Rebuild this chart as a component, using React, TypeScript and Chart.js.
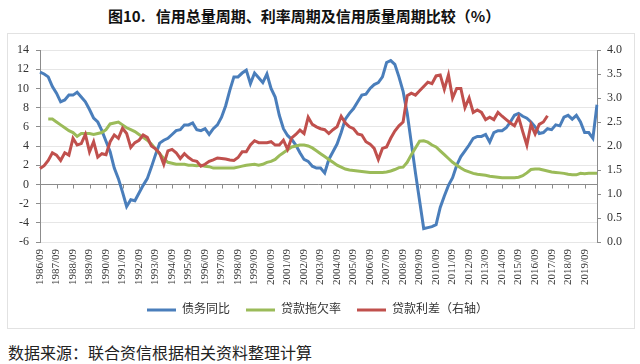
import React, { useEffect, useRef } from 'react';
import { Chart, registerables } from 'chart.js';

Chart.register(...registerables);

// Quarterly categories 1986/09 .. 2020/06
const yearTicks: string[] = [];
for (let y = 1986; y <= 2019; y++) yearTicks.push(`${y}/09`);
const categories: string[] = [];
for (let y = 1986; y <= 2020; y++) {
  for (const m of ['09', '12', '03', '06']) {
    const yy = m === '09' || m === '12' ? y : y + 1;
    categories.push(`${yy}/${m}`);
  }
}
categories.length = 136;

const leftTicks = [-6, -4, -2, 0, 2, 4, 6, 8, 10, 12, 14];
const rightTicks = [0, 0.5, 1, 1.5, 2, 2.5, 3, 3.5, 4];

// 债务同比 (left axis, %)
const debtGrowth: number[] = [
  11.7, 11.5, 11.2, 10.2, 9.5, 8.6, 8.8, 9.3, 9.3, 9.6,
  9.1, 8.6, 7.8, 6.9, 6.5, 5.6, 4.5, 3.4, 1.7, 0.6,
  -0.8, -2.3, -1.6, -1.7, -0.9, -0.1, 0.6, 1.8, 3.1, 4.3,
  4.6, 4.8, 5.2, 5.6, 5.7, 6.2, 6.2, 6.4, 5.7, 5.6,
  5.8, 5.2, 5.8, 6.2, 7.0, 8.2, 9.8, 11.2, 11.2, 11.6,
  11.9, 10.5, 11.6, 11.1, 10.6, 11.5, 10.0, 9.1, 7.2, 5.8,
  5.1, 4.7, 4.1, 3.3, 2.6, 2.4, 1.9, 1.7, 1.7, 1.2,
  2.6, 3.4, 4.2, 5.4, 6.8, 7.4, 7.9, 8.6, 9.3, 9.4,
  10.0, 10.4, 10.6, 11.2, 12.7, 12.9, 12.5, 11.2, 9.7, 7.4,
  4.3, 1.2, -1.7, -4.6, -4.5, -4.4, -4.2, -2.4, -1.2, -0.1,
  0.7, 2.0, 2.9, 3.5, 4.1, 4.8, 5.0, 5.0, 5.2, 4.4,
  5.4, 5.6, 5.6, 5.9, 6.5, 7.2, 7.4, 7.1, 6.9, 6.5,
  6.0, 5.3, 5.4, 5.8, 5.7, 6.2, 6.1, 7.0, 7.2, 6.8,
  7.2, 6.5, 5.4, 5.4, 4.8, 8.3,
];

// 贷款拖欠率 (left axis, %)
const delinquency: (number | null)[] = [
  null, null, 6.8, 6.8, 6.5, 6.2, 5.9, 5.6, 5.4, 5.0,
  5.3, 5.3, 5.3, 5.2, 5.3, 5.4, 5.7, 6.3, 6.4, 6.5,
  6.2, 5.9, 5.7, 5.5, 5.2, 4.9, 4.6, 4.2, 3.7, 3.2,
  2.7, 2.3, 2.2, 2.1, 2.1, 2.1, 2.0, 2.0, 1.95, 2.0,
  1.9, 1.85, 1.7, 1.7, 1.7, 1.7, 1.7, 1.7, 1.8, 1.9,
  2.0, 2.05, 2.1, 2.0, 2.1, 2.3, 2.4, 2.6, 3.0, 3.3,
  3.6, 3.9, 4.0, 4.1, 4.1, 4.0, 3.8, 3.5, 3.2, 2.9,
  2.6, 2.3, 2.0, 1.8, 1.6, 1.5, 1.45, 1.4, 1.35, 1.3,
  1.25, 1.25, 1.25, 1.25, 1.3, 1.4, 1.55, 1.75, 1.8, 2.3,
  3.1, 3.8, 4.5, 4.55, 4.4, 4.1, 3.9, 3.5, 3.1, 2.7,
  2.3, 2.0, 1.7, 1.45, 1.3, 1.15, 1.05, 1.0, 0.95, 0.85,
  0.8, 0.75, 0.7, 0.7, 0.7, 0.7, 0.75, 0.9, 1.2, 1.55,
  1.6, 1.6, 1.5, 1.4, 1.3, 1.25, 1.2, 1.15, 1.05, 1.0,
  1.0, 1.15, 1.1, 1.15, 1.15, 1.15,
];

// 贷款利差 (right axis, %)
const loanSpread: number[] = [
  1.53, 1.59, 1.70, 1.86, 1.81, 1.70, 1.86, 1.81, 2.16, 2.02,
  2.05, 2.24, 1.88, 2.09, 1.77, 1.84, 1.82, 2.09, 2.23, 2.16,
  2.37, 2.26, 1.97, 2.07, 2.12, 2.23, 2.18, 2.00, 1.94, 1.85,
  1.62, 1.90, 1.93, 1.86, 1.74, 1.84, 1.76, 1.70, 1.68, 1.58,
  1.62, 1.68, 1.71, 1.75, 1.74, 1.73, 1.71, 1.70, 1.76, 1.88,
  1.88, 2.02, 2.11, 2.07, 2.07, 2.07, 2.09, 2.02, 2.02, 2.12,
  1.93, 2.17, 2.24, 2.33, 2.26, 2.60, 2.45, 2.40, 2.36, 2.34,
  2.26, 2.34, 2.40, 2.62, 2.48, 2.40, 2.36, 2.25, 2.23, 2.09,
  2.04, 1.95, 1.72, 1.95, 1.98, 2.16, 2.31, 2.42, 2.50, 3.05,
  3.10, 3.06, 3.15, 3.24, 3.33, 3.30, 3.46, 3.48, 3.18, 3.48,
  3.00, 3.20, 3.20, 2.80, 3.00, 2.70, 2.75, 2.70, 2.55, 2.60,
  2.55, 2.70, 2.62, 2.55, 2.48, 2.42, 2.60, 2.30, 2.02, 2.45,
  2.25, 2.45, 2.50, 2.63,
];

const seriesNames = ['债务同比', '贷款拖欠率', '贷款利差（右轴）'];
const seriesColors = ['#4A7EBB', '#9BBB59', '#C0504D'];

const serif = "'Liberation Serif', 'Noto Sans CJK SC', serif";

const zeroAxisPlugin = {
  id: 'zeroAxis',
  beforeDatasetsDraw(chart: any) {
    const { ctx, chartArea, scales } = chart;
    const y0 = Math.round(scales.yLeft.getPixelForValue(0)) + 0.5;
    ctx.save();
    ctx.strokeStyle = '#8c8c8c';
    ctx.lineWidth = 1;
    ctx.beginPath();
    ctx.moveTo(chartArea.left, y0);
    ctx.lineTo(chartArea.right, y0);
    categories.forEach((c, i) => {
      if (yearTicks.includes(c)) {
        const x = Math.round(scales.x.getPixelForValue(i)) + 0.5;
        ctx.moveTo(x, y0);
        ctx.lineTo(x, y0 + 4);
      }
    });
    ctx.stroke();
    ctx.restore();
  },
};

function ChartCanvas() {
  const ref = useRef<HTMLCanvasElement | null>(null);
  useEffect(() => {
    if (!ref.current) return;
    const chart = new Chart(ref.current, {
      type: 'line',
      data: {
        labels: categories,
        datasets: [
          {
            label: seriesNames[0],
            data: debtGrowth,
            borderColor: seriesColors[0],
            backgroundColor: seriesColors[0],
            borderWidth: 3,
            pointRadius: 0,
            yAxisID: 'yLeft',
            order: 2,
          },
          {
            label: seriesNames[1],
            data: delinquency,
            borderColor: seriesColors[1],
            backgroundColor: seriesColors[1],
            borderWidth: 3,
            pointRadius: 0,
            yAxisID: 'yLeft',
            order: 1,
          },
          {
            label: seriesNames[2],
            data: loanSpread,
            borderColor: seriesColors[2],
            backgroundColor: seriesColors[2],
            borderWidth: 3,
            pointRadius: 0,
            yAxisID: 'yRight',
            order: 0,
          },
        ],
      },
      options: {
        responsive: false,
        animation: false,
        devicePixelRatio: 1,
        layout: { padding: { left: 0, right: 7, top: 16, bottom: 2 } },
        plugins: {
          tooltip: { enabled: false },
          legend: {
            position: 'bottom',
            labels: {
              boxWidth: 29,
              boxHeight: 3,
              padding: 16,
              color: '#333',
              font: { size: 12, family: serif },
              generateLabels: (ch: any) =>
                ch.data.datasets.map((ds: any, i: number) => ({
                  text: ds.label,
                  fillStyle: ds.borderColor,
                  strokeStyle: ds.borderColor,
                  lineWidth: 0,
                  hidden: false,
                  datasetIndex: i,
                  fontColor: '#333',
                })),
            },
          },
        },
        scales: {
          x: {
            type: 'category',
            grid: { display: false, drawTicks: false },
            border: { display: false },
            ticks: {
              autoSkip: false,
              maxRotation: 90,
              minRotation: 90,
              padding: 7,
              color: '#333',
              font: { size: 11, family: serif },
              callback: (_v: any, idx: number) =>
                yearTicks.includes(categories[idx]) ? categories[idx] : '',
            },
            afterFit: (s: any) => {
              s.height = 46;
            },
          },
          yLeft: {
            type: 'linear',
            position: 'left',
            min: leftTicks[0],
            max: leftTicks[leftTicks.length - 1],
            afterBuildTicks: (s: any) => {
              s.ticks = leftTicks.map((v) => ({ value: v }));
            },
            grid: {
              color: '#e6e6e6',
              tickColor: '#8c8c8c',
              tickLength: 4,
              drawTicks: true,
            },
            border: { display: true, color: '#8c8c8c' },
            ticks: {
              padding: 7,
              color: '#333',
              font: { size: 12, family: serif },
            },
            afterFit: (s: any) => {
              s.width = 32;
            },
          },
          yRight: {
            type: 'linear',
            position: 'right',
            min: rightTicks[0],
            max: rightTicks[rightTicks.length - 1],
            afterBuildTicks: (s: any) => {
              s.ticks = rightTicks.map((v) => ({ value: v }));
            },
            grid: {
              drawOnChartArea: false,
              tickColor: '#8c8c8c',
              tickLength: 4,
              drawTicks: true,
            },
            border: { display: true, color: '#8c8c8c' },
            ticks: {
              padding: 6,
              color: '#333',
              font: { size: 12, family: serif },
              callback: (v: any) => Number(v).toFixed(1),
            },
            afterFit: (s: any) => {
              s.width = 30;
            },
          },
        },
      },
      plugins: [zeroAxisPlugin],
    } as any);
    return () => chart.destroy();
  }, []);
  return <canvas ref={ref} width={626} height={294} style={{ display: 'block' }} />;
}

export default function App() {
  return (
    <div
      style={{
        position: 'absolute',
        left: 0,
        top: 0,
        width: 640,
        height: 364,
        background: '#fff',
        overflow: 'hidden',
      }}
    >
      <div
        style={{
          position: 'absolute',
          left: 108,
          top: 5,
          whiteSpace: 'pre',
          fontFamily: "'Noto Sans CJK SC', sans-serif",
          fontWeight: 'bold',
          fontSize: 15,
          lineHeight: '22px',
          color: '#111',
        }}
      >
        {'图10.   信用总量周期、利率周期及信用质量周期比较（%）'}
      </div>
      <div
        style={{
          position: 'absolute',
          left: 7,
          top: 33,
          width: 628,
          height: 296,
          boxSizing: 'border-box',
          border: '1px solid #e2e2e2',
        }}
      >
        <ChartCanvas />
      </div>
      <div
        style={{
          position: 'absolute',
          left: 8,
          top: 341,
          fontFamily: "'Noto Sans CJK SC', sans-serif",
          fontSize: 16,
          lineHeight: '22px',
          color: '#222',
          whiteSpace: 'pre',
        }}
      >
        数据来源：联合资信根据相关资料整理计算
      </div>
    </div>
  );
}
